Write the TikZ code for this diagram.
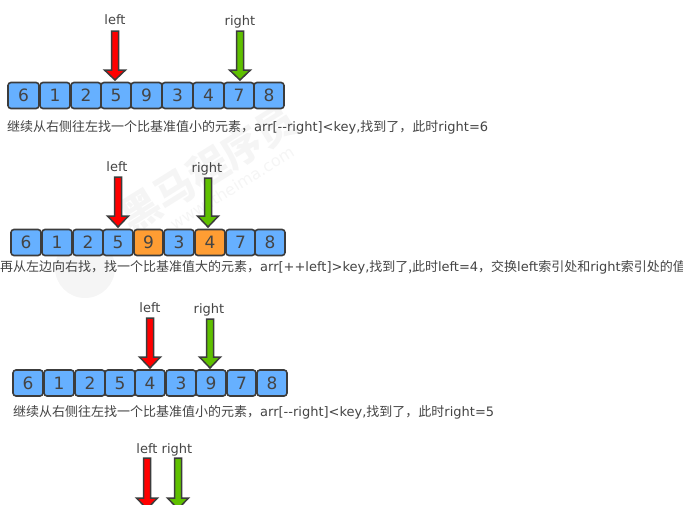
\documentclass[tikz,border=0pt]{standalone}
\usepackage{fontspec}
\setmainfont{DejaVu Sans}
\newfontfamily\cjk{Noto Sans CJK SC}
\definecolor{cellblue}{HTML}{66B0FF}
\definecolor{cellorange}{HTML}{FF9D33}
\definecolor{edgegrey}{HTML}{3C3C3C}
\definecolor{txt}{HTML}{444444}
\definecolor{arrred}{HTML}{FF0000}
\definecolor{arrgreen}{HTML}{5FC000}
\tikzset{
 cell/.style={draw=edgegrey,line width=1.6pt,rounded corners=3pt,fill=cellblue,minimum height=26pt,inner sep=0pt,text=txt,font=\fontsize{17}{18}\selectfont},
 hot/.style={cell,fill=cellorange},
 ptrlabel/.style={text=txt,font=\fontsize{13}{14}\selectfont,inner sep=0pt},
 caption/.style={text=txt,font=\fontsize{13}{14}\selectfont,inner sep=0pt,anchor=west},
 ptr/.style={draw=edgegrey,line width=1.5pt,line join=miter},
}
\newcommand{\pointer}[5]{% x, ytop, yheadstart, ytip, color
 \draw[ptr,fill=#5] (#1-3.5,#2) -- (#1+3.5,#2) -- (#1+3.5,#3) -- (#1+10.5,#3) -- (#1,#4) -- (#1-10.5,#3) -- (#1-3.5,#3) -- (#1-3.5,#2) -- cycle;}
\begin{document}
\begin{tikzpicture}[x=1pt,y=-1pt]
\useasboundingbox (0,0) rectangle (689,509);
\fill[white] (0,0) rectangle (689,509);
% watermark
\begin{scope}[opacity=.04]
\fill[black] (85,268) circle (30);
\node[rotate=32,font=\cjk\bfseries\fontsize{40}{40}\selectfont,inner sep=0pt] (wm) at (208,168) {黑马程序员};
\node[rotate=32,font=\fontsize{16}{16}\selectfont,inner sep=0pt] (wm2) at (232,188) {www.itheima.com};
\end{scope}
% row 1
\foreach \n/\a/\b/\v/\s in {a1/8/39/6/cell,a2/40/70/1/cell,a3/71/101/2/cell,a4/101/131/5/cell,a5/131/162/9/cell,a6/162/193/3/cell,a7/193/224/4/cell,a8/224/254/7/cell,a9/254/284/8/cell}{
 \node[\s,minimum width=\b-\a] (\n) at ({(\a+\b)/2},95.5) {\v};}
% row 2
\foreach \n/\a/\b/\v/\s in {b1/11/41/6/cell,b2/42/72/1/cell,b3/73/103/2/cell,b4/103/133/5/cell,b5/134/163/9/hot,b6/164/194/3/cell,b7/195/225/4/hot,b8/226/255/7/cell,b9/255/285/8/cell}{
 \node[\s,minimum width=\b-\a] (\n) at ({(\a+\b)/2},242.5) {\v};}
% row 3
\foreach \n/\a/\b/\v/\s in {c1/13/43/6/cell,c2/44/74/1/cell,c3/75/105/2/cell,c4/105/135/5/cell,c5/135/165/4/cell,c6/166/196/3/cell,c7/196/226/9/cell,c8/227/256/7/cell,c9/257/287/8/cell}{
 \node[\s,minimum width=\b-\a] (\n) at ({(\a+\b)/2},383) {\v};}
% arrows
\pointer{115}{31}{70}{80}{arrred}
\pointer{240}{31}{70}{80}{arrgreen}
\pointer{118}{177}{216}{227}{arrred}
\pointer{208}{178}{216}{227}{arrgreen}
\pointer{150}{318}{357}{368}{arrred}
\pointer{210}{319}{357}{368}{arrgreen}
\begin{scope}
\clip (0,0) rectangle (689,504);
\pointer{147}{458}{498}{509}{arrred}
\pointer{178}{458}{498}{509}{arrgreen}
\end{scope}
% labels
\node[ptrlabel] (l1) at (115,20) {left};
\node[ptrlabel] (r1) at (240,21.5) {right};
\node[ptrlabel] (l2) at (117,167) {left};
\node[ptrlabel] (r2) at (207,168.5) {right};
\node[ptrlabel] (l3) at (150,308) {left};
\node[ptrlabel] (r3) at (209,309.5) {right};
\node[ptrlabel] (l4) at (147,449) {left};
\node[ptrlabel] (r4) at (177,450) {right};
% captions
\node[caption] (t1) at (7,127.5) {{\cjk 继续从右侧往左找一个比基准值小的元素，}arr[-{}-right]<key,{\cjk 找到了，此时}right=6};
\begin{scope}
\clip (0,0) rectangle (682,509);
\node[caption] (t2) at (0,267.5) {{\cjk 再从左边向右找，找一个比基准值大的元素，}arr[++left]>key,{\cjk 找到了,此时}left=4{\cjk ，交换}left{\cjk 索引处和}right{\cjk 索引处的值}};
\end{scope}
\node[caption] (t3) at (13,412.5) {{\cjk 继续从右侧往左找一个比基准值小的元素，}arr[-{}-right]<key,{\cjk 找到了，此时}right=5};
\end{tikzpicture}
\end{document}
